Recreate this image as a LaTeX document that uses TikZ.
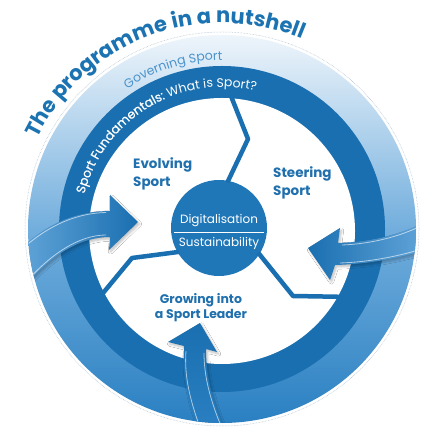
\documentclass[tikz,border=0pt]{standalone}
\usepackage{fontspec}
\setmainfont{Poppins}
\newfontfamily\pmed{Poppins}[FakeBold=0.5]
\usetikzlibrary{decorations.text,shadows.blur}
\definecolor{ringblue}{HTML}{1A6FB0}
\definecolor{circblue}{HTML}{1F77B8}
\definecolor{titleblue}{HTML}{1B73B2}
\definecolor{labelblue}{HTML}{2070AD}
\definecolor{govblue}{HTML}{4A93CB}
\definecolor{disctop}{HTML}{EEF5FB}
\definecolor{discmid}{HTML}{72AEDD}
\definecolor{discbot}{HTML}{2A80C2}
\definecolor{dotgray}{HTML}{9DB6CB}
\definecolor{tailblue}{HTML}{62A5D9}
\begin{document}
\begin{tikzpicture}[x=1pt,y=1pt,
  spoke/.style={draw=ringblue, line width=4.5pt, line join=round},
  label/.style={font=\bfseries\fontsize{13.5}{18}\selectfont, text=labelblue, inner sep=0pt},
  bigarrow/.style={blur shadow={shadow xshift=1.5pt, shadow yshift=-2pt, shadow opacity=25, shadow blur steps=6}},
  gloss/.style={draw=white, line width=0.8pt, opacity=0.6},
  coretext/.style={font=\fontsize{12}{14}\selectfont, text=white, inner sep=0pt}
]
\useasboundingbox (0,0) rectangle (433,441);
\fill[white] (0,0) rectangle (433,441);
\coordinate (C) at (222,212);
% outer light disc
\shade[top color=disctop, bottom color=discbot, middle color=discmid] (C) circle[radius=194pt];
\draw[dotgray, densely dotted, line width=0.5pt] (C) circle[radius=197pt];
% dark ring
\fill[ringblue] (C) circle[radius=163pt];
\fill[white] (222,210) circle[radius=133pt];
% core
\node[circle, fill=circblue, minimum size=96pt, inner sep=0pt] (core) at (219,213) {};
\coordinate (t1) at (248,302);
\coordinate (t0) at (229,350);
\coordinate (l1) at (132,183);
\coordinate (l0) at (94,137);
\coordinate (r1) at (293,145);
\coordinate (r0) at (352,144);
\draw[spoke, shorten <=-2pt] (core.79) -- (t1) -- (t0);
\draw[spoke, shorten <=-2pt] (core.210) -- (l1) -- (l0);
\draw[spoke, shorten <=-2pt] (core.327) -- (r1) -- (r0);
\node[coretext] (dig) at (219,220) {Digitalisation};
\node[coretext] (sus) at (219,198) {Sustainability};
\draw[white, line width=0.6pt] (174,209) -- (264,209);
% arrows
\begin{scope}
\clip (C) circle[radius=194pt];
\path[bigarrow, left color=tailblue, right color=ringblue] (20,192) .. controls (50,220) and (80,230) .. (110,230) -- (110,246) -- (138,219) -- (109,191) -- (110,204) .. controls (80,204) and (50,186) .. (20,150) -- cycle;
\draw[gloss] (20,190) .. controls (50,218) and (80,228) .. (106,228.5);
\draw[gloss] (20,152) .. controls (50,188) and (80,206) .. (106,206);
\path[bigarrow, right color=tailblue, left color=ringblue] (425,219) .. controls (400,206) and (370,199) .. (338,198) -- (340,213) -- (308,193) -- (330,161) -- (335,176) .. controls (370,177) and (400,183) .. (425,191) -- cycle;
\draw[gloss] (425,217) .. controls (400,204) and (370,197) .. (342,196);
\draw[gloss] (425,193) .. controls (400,185) and (370,179) .. (340,178);
\path[bigarrow, bottom color=discbot, top color=ringblue] (200,8) .. controls (188,40) and (182,65) .. (184,95) -- (168,99) -- (200,118) -- (217,89) -- (206,92) .. controls (206,65) and (212,40) .. (226,8) -- cycle;
\draw[gloss] (202,8) .. controls (190,40) and (184,65) .. (186,90);
\draw[gloss] (224,8) .. controls (210,40) and (204,65) .. (204,88);
\end{scope}
% labels
\node[label, anchor=west, align=left] (evo) at (133,267) {Evolving\\Sport};
\node[label, anchor=west, align=left] (ste) at (273,258) {Steering\\Sport};
\node[label, align=center, font=\bfseries\fontsize{12.5}{15}\selectfont] (gro) at (201,133) {Growing into\\a Sport Leader};
% arc texts
\path[decorate, decoration={text along path, text color=titleblue, text align=center,
  text={|\bfseries\fontsize{21}{21}\selectfont|The programme in a nutshell}}]
  (C) ++(165:206pt) arc[start angle=165, end angle=56, radius=206pt];
\path[decorate, decoration={text along path, text color=govblue, text align=center,
  text={|\fontsize{12.5}{13}\selectfont|Governing Sport}}]
  (C) ++(147:169pt) arc[start angle=147, end angle=67, radius=169pt];
\path[decorate, decoration={text along path, text color=white, text align=center,
  text={|\pmed\fontsize{12.5}{13}\selectfont|Sport Fundamentals: |\normalfont\fontsize{12.5}{13}\selectfont|What is Sport?}}]
  (C) ++(181:142pt) arc[start angle=181, end angle=61, radius=142pt];
\end{tikzpicture}
\end{document}
